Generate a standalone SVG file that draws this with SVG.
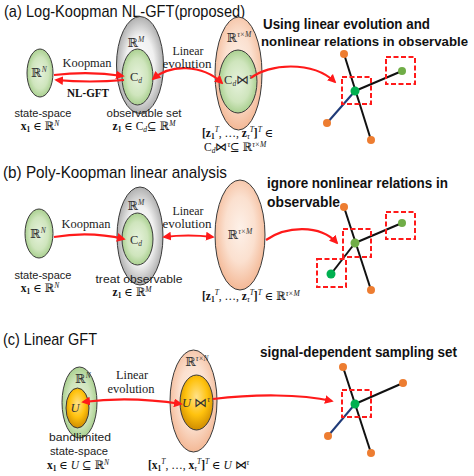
<svg xmlns="http://www.w3.org/2000/svg" width="474" height="476" viewBox="0 0 474 476">
<defs>
<radialGradient id="gGreen" cx="50%" cy="50%" r="55%"><stop offset="0" stop-color="#e6f2dc"/><stop offset="0.6" stop-color="#cfe5bd"/><stop offset="1" stop-color="#9fca83"/></radialGradient>
<radialGradient id="gGray" cx="50%" cy="50%" r="55%"><stop offset="0" stop-color="#ffffff"/><stop offset="0.55" stop-color="#f0f0f0"/><stop offset="1" stop-color="#a0a0a0"/></radialGradient>
<radialGradient id="gOrange" cx="50%" cy="45%" r="60%"><stop offset="0" stop-color="#fdf1e9"/><stop offset="0.5" stop-color="#fbe0cf"/><stop offset="1" stop-color="#f2b08a"/></radialGradient>
<radialGradient id="gGold" cx="50%" cy="40%" r="60%"><stop offset="0" stop-color="#ffe28a"/><stop offset="0.55" stop-color="#ffc20e"/><stop offset="1" stop-color="#cf8c00"/></radialGradient>
<marker id="ah" viewBox="0 0 10 10" refX="8" refY="5" markerWidth="4" markerHeight="4" orient="auto-start-reverse"><path d="M0,0 L10,5 L0,10 z" fill="#ff1a1a"/></marker>
<style>
.el{stroke:#3a3a3a;stroke-width:1}
.grn{fill:url(#gGreen)}
.gry{fill:url(#gGray)}
.org{fill:url(#gOrange)}
.gld{fill:url(#gGold)}
.arr{fill:none;stroke:#ff1a1a;stroke-width:2.2}
.ttl{font-family:"Liberation Sans","Open Sans",sans-serif;font-size:17px;fill:#111}
.bt{font-family:"Liberation Sans","Open Sans",sans-serif;font-size:14.5px;font-weight:bold;fill:#111}
.bt2{font-family:"Liberation Sans","Open Sans",sans-serif;font-size:12.8px;font-weight:bold;fill:#111}
.lab{font-family:"Liberation Sans","Open Sans",sans-serif;font-size:11px;fill:#222}
.m{font-family:"Liberation Serif","DejaVu Serif",serif;font-size:12.5px;fill:#333}
.mb{font-family:"Liberation Serif","DejaVu Serif",serif;font-size:11.5px;fill:#111}
.ser{font-family:"Liberation Serif","DejaVu Serif",serif;font-size:12.5px;fill:#222}
.sb{font-family:"Liberation Serif","DejaVu Serif",serif;font-size:12.5px;font-weight:bold;fill:#111}
.it{font-style:italic}
.sm{font-size:7.5px}
.edge{stroke:#111;stroke-width:2}
.blue{stroke:#1f3a78;stroke-width:2}
.no{fill:#ed7d31}
.ng{fill:#00b050}
.nl{fill:#70ad47}
.box{fill:none;stroke:#ff1a1a;stroke-width:2;stroke-dasharray:5,2.5}
</style>
</defs>
<rect width="474" height="476" fill="#ffffff"/>

<!-- Titles -->
<text class="ttl" x="4" y="17" textLength="241" lengthAdjust="spacingAndGlyphs">(a) Log-Koopman NL-GFT(proposed)</text>
<text class="ttl" x="3" y="178" textLength="224" lengthAdjust="spacingAndGlyphs">(b) Poly-Koopman linear analysis</text>
<text class="ttl" x="3" y="345" textLength="94" lengthAdjust="spacingAndGlyphs">(c) Linear GFT</text>
<text class="bt" x="263" y="29" textLength="167" lengthAdjust="spacingAndGlyphs">Using linear evolution and</text>
<text class="bt2" x="261" y="46" textLength="207" lengthAdjust="spacingAndGlyphs">nonlinear relations in observable</text>
<text class="bt" x="267" y="188" textLength="181" lengthAdjust="spacingAndGlyphs">ignore nonlinear relations in</text>
<text class="bt" x="267" y="207" textLength="73" lengthAdjust="spacingAndGlyphs">observable</text>
<text class="bt" x="260" y="357" textLength="197" lengthAdjust="spacingAndGlyphs">signal-dependent sampling set</text>

<!-- Panel (a) nodes -->
<g id="a-state">
<ellipse class="el grn" cx="40" cy="73" rx="13" ry="24"/>
<text class="m" x="39" y="77" text-anchor="middle">ℝ<tspan class="sm it" dy="-5">N</tspan></text>
<text class="lab" x="43" y="117" text-anchor="middle" textLength="57" lengthAdjust="spacingAndGlyphs">state-space</text>
<text class="mb" x="40" y="130" text-anchor="middle"><tspan font-weight="bold">x</tspan><tspan class="sm" font-weight="bold" dy="2">1</tspan><tspan dy="-2"> ∈ ℝ</tspan><tspan class="sm it" dy="-4">N</tspan></text>
</g>
<g id="a-observable">
<ellipse class="el gry" cx="140" cy="65" rx="23.5" ry="48.5"/>
<ellipse class="el grn" cx="137.5" cy="77" rx="15.5" ry="28"/>
<text class="m" x="136" y="47" text-anchor="middle">ℝ<tspan class="sm it" dy="-5">M</tspan></text>
<text class="m" x="136" y="81" text-anchor="middle">C<tspan class="sm it" dy="2">d</tspan></text>
<text class="lab" x="144" y="117" text-anchor="middle" textLength="75" lengthAdjust="spacingAndGlyphs">observable set</text>
<text class="mb" x="144" y="130" text-anchor="middle"><tspan font-weight="bold">z</tspan><tspan class="sm" font-weight="bold" dy="2">1</tspan><tspan dy="-2"> ∈ C</tspan><tspan class="sm it" dy="2">d</tspan><tspan dy="-2">⊆ ℝ</tspan><tspan class="sm it" dy="-4">M</tspan></text>
</g>
<g id="a-evolved">
<ellipse class="el org" cx="238.5" cy="73.5" rx="23.5" ry="56.5"/>
<ellipse class="el grn" cx="238" cy="81.5" rx="19" ry="31.5"/>
<text class="m" x="239" y="42" text-anchor="middle">ℝ<tspan class="sm it" dy="-5">τ×M</tspan></text>
<text class="m" x="238" y="84" text-anchor="middle">C<tspan class="sm it" dy="2">d</tspan><tspan dy="-2">⋈</tspan><tspan class="sm it" dy="-5">τ</tspan></text>
<text class="mb" x="202" y="137"><tspan font-weight="bold">[z</tspan><tspan class="sm" font-weight="bold" dy="2">1</tspan><tspan class="sm it" dy="-7">T</tspan><tspan dy="5">, …, </tspan><tspan font-weight="bold">z</tspan><tspan class="sm it" dy="2">τ</tspan><tspan class="sm it" dy="-7">T</tspan><tspan dy="5" font-weight="bold">]</tspan><tspan class="sm it" dy="-5">T</tspan><tspan dy="5"> ∈</tspan></text>
<text class="mb" x="204" y="151">C<tspan class="sm it" dy="2">d</tspan><tspan dy="-2">⋈</tspan><tspan class="sm it" dy="-4">τ</tspan><tspan dy="4">⊆ ℝ</tspan><tspan class="sm it" dy="-4">τ×M</tspan></text>
</g>
<g id="a-graph">
<line class="edge" x1="344" y1="54" x2="371" y2="140"/>
<line class="edge" x1="355" y1="91" x2="402" y2="71"/>
<line class="blue" x1="355" y1="91" x2="327" y2="123"/>
<circle class="no" cx="344" cy="54" r="4"/>
<circle class="no" cx="327" cy="123" r="4"/>
<circle class="no" cx="371" cy="140" r="4"/>
<circle class="ng" cx="355" cy="91" r="4.5"/>
<circle class="nl" cx="402" cy="71" r="4"/>
<rect class="box" x="342" y="77" width="29" height="27"/>
<rect class="box" x="386" y="57" width="29" height="27"/>
</g>

<!-- Panel (b) nodes -->
<g id="b-state">
<ellipse class="el grn" cx="39" cy="233.5" rx="14" ry="24.5"/>
<text class="m" x="38" y="238" text-anchor="middle">ℝ<tspan class="sm it" dy="-5">N</tspan></text>
<text class="lab" x="43" y="279" text-anchor="middle" textLength="57" lengthAdjust="spacingAndGlyphs">state-space</text>
<text class="mb" x="40" y="292" text-anchor="middle"><tspan font-weight="bold">x</tspan><tspan class="sm" font-weight="bold" dy="2">1</tspan><tspan dy="-2"> ∈ ℝ</tspan><tspan class="sm it" dy="-4">N</tspan></text>
</g>
<g id="b-observable">
<ellipse class="el gry" cx="140" cy="236" rx="23" ry="49"/>
<ellipse class="el grn" cx="137.5" cy="239" rx="15.5" ry="26"/>
<text class="m" x="136" y="210" text-anchor="middle">ℝ<tspan class="sm it" dy="-5">M</tspan></text>
<text class="m" x="136" y="244" text-anchor="middle">C<tspan class="sm it" dy="2">d</tspan></text>
<text class="lab" x="139" y="283" text-anchor="middle" textLength="87" lengthAdjust="spacingAndGlyphs">treat observable</text>
<text class="mb" x="132" y="296" text-anchor="middle"><tspan font-weight="bold">z</tspan><tspan class="sm" font-weight="bold" dy="2">1</tspan><tspan dy="-2"> ∈ ℝ</tspan><tspan class="sm it" dy="-4">M</tspan></text>
</g>
<g id="b-evolved">
<ellipse class="el org" cx="240" cy="235" rx="25" ry="55"/>
<text class="m" x="240" y="239" text-anchor="middle">ℝ<tspan class="sm it" dy="-5">τ×M</tspan></text>
<text class="mb" x="202" y="300"><tspan font-weight="bold">[z</tspan><tspan class="sm" font-weight="bold" dy="2">1</tspan><tspan class="sm it" dy="-7">T</tspan><tspan dy="5">, …, </tspan><tspan font-weight="bold">z</tspan><tspan class="sm it" dy="2">τ</tspan><tspan class="sm it" dy="-7">T</tspan><tspan dy="5" font-weight="bold">]</tspan><tspan class="sm it" dy="-5">T</tspan><tspan dy="5"> ∈ ℝ</tspan><tspan class="sm it" dy="-4">τ×M</tspan></text>
</g>
<g id="b-graph">
<line class="edge" x1="344" y1="207" x2="371" y2="290"/>
<line class="edge" x1="355" y1="243" x2="402" y2="223"/>
<line class="edge" x1="355" y1="243" x2="331" y2="274"/>
<circle class="no" cx="344" cy="207" r="4"/>
<circle class="no" cx="371" cy="290" r="4"/>
<circle class="nl" cx="355" cy="243" r="4.5"/>
<circle class="nl" cx="402" cy="223" r="4"/>
<circle class="ng" cx="331" cy="274" r="4.5"/>
<rect class="box" x="343" y="229" width="28" height="28"/>
<rect class="box" x="386" y="212" width="29" height="27"/>
<rect class="box" x="317" y="259" width="29" height="28"/>
</g>

<!-- Panel (c) nodes -->
<g id="c-state">
<ellipse class="el grn" cx="79.5" cy="402.5" rx="17.5" ry="35.5"/>
<ellipse class="el gld" cx="77.5" cy="408" rx="11.5" ry="20"/>
<text class="m" x="83" y="383" text-anchor="middle">ℝ<tspan class="sm it" dy="-5">N</tspan></text>
<text class="m it" x="75" y="412" text-anchor="middle">U</text>
<text class="lab" x="80" y="441" text-anchor="middle" textLength="62" lengthAdjust="spacingAndGlyphs">bandlimited</text>
<text class="lab" x="79" y="455" text-anchor="middle" textLength="58" lengthAdjust="spacingAndGlyphs">state-space</text>
<text class="mb" x="78" y="469" text-anchor="middle"><tspan font-weight="bold">x</tspan><tspan class="sm" font-weight="bold" dy="2">1</tspan><tspan dy="-2"> ∈ </tspan><tspan class="it">U</tspan><tspan> ⊆ ℝ</tspan><tspan class="sm it" dy="-4">N</tspan></text>
</g>
<g id="c-evolved">
<ellipse class="el org" cx="193.5" cy="401" rx="23.5" ry="51"/>
<ellipse class="el gld" cx="196.5" cy="402.5" rx="16.5" ry="27.5"/>
<text class="m" x="197" y="366" text-anchor="middle">ℝ<tspan class="sm it" dy="-5">τ×N</tspan></text>
<text class="m" x="196" y="407" text-anchor="middle"><tspan class="it">U</tspan> ⋈<tspan class="sm it" dy="-5">τ</tspan></text>
<text class="mb" x="148" y="469"><tspan font-weight="bold">[x</tspan><tspan class="sm" font-weight="bold" dy="2">1</tspan><tspan class="sm it" dy="-7">T</tspan><tspan dy="5">, …, </tspan><tspan font-weight="bold">x</tspan><tspan class="sm it" dy="2">τ</tspan><tspan class="sm it" dy="-7">T</tspan><tspan dy="5" font-weight="bold">]</tspan><tspan class="sm it" dy="-5">T</tspan><tspan dy="5"> ∈ </tspan><tspan class="it">U</tspan><tspan> ⋈</tspan><tspan class="sm it" dy="-4">τ</tspan></text>
</g>
<g id="c-graph">
<line class="edge" x1="343" y1="367" x2="371" y2="453"/>
<line class="edge" x1="355" y1="404" x2="403" y2="383"/>
<line class="blue" x1="355" y1="404" x2="328" y2="436"/>
<circle class="no" cx="343" cy="367" r="4"/>
<circle class="no" cx="371" cy="453" r="4"/>
<circle class="no" cx="403" cy="383" r="4"/>
<circle class="no" cx="328" cy="436" r="4"/>
<circle class="ng" cx="355" cy="404" r="4.5"/>
<rect class="box" x="342" y="390" width="29" height="27"/>
</g>

<!-- Connectors -->
<g id="connectors">
<path class="arr" d="M54,75 Q90,71 123,76" marker-end="url(#ah)"/>
<path class="arr" d="M124,80 Q90,83 56,80" marker-end="url(#ah)"/>
<path class="arr" d="M153,79 C170,64 202,64 222,83" marker-start="url(#ah)" marker-end="url(#ah)"/>
<path class="arr" d="M251,78 C268,64 312,60 335,82" marker-end="url(#ah)"/>
<path class="arr" d="M54,237 Q90,231 124,239" marker-end="url(#ah)"/>
<path class="arr" d="M164,237 Q188,234 213,237" marker-start="url(#ah)" marker-end="url(#ah)"/>
<path class="arr" d="M266,240 C286,226 320,224 337,243" marker-end="url(#ah)"/>
<path class="arr" d="M83,402 Q130,396 181,404" marker-start="url(#ah)" marker-end="url(#ah)"/>
<path class="arr" d="M213,399 C255,394 300,394 332,401" marker-end="url(#ah)"/>
</g>
<g id="connector-labels">
<text class="ser" x="87" y="67" text-anchor="middle" textLength="49" lengthAdjust="spacingAndGlyphs">Koopman</text>
<text class="sb" x="88" y="97" text-anchor="middle" textLength="42" lengthAdjust="spacingAndGlyphs">NL-GFT</text>
<text class="ser" x="188" y="55" text-anchor="middle" textLength="31" lengthAdjust="spacingAndGlyphs">Linear</text>
<text class="ser" x="187" y="68" text-anchor="middle" textLength="49" lengthAdjust="spacingAndGlyphs">evolution</text>
<text class="ser" x="86" y="228" text-anchor="middle" textLength="49" lengthAdjust="spacingAndGlyphs">Koopman</text>
<text class="ser" x="188" y="215" text-anchor="middle" textLength="31" lengthAdjust="spacingAndGlyphs">Linear</text>
<text class="ser" x="187" y="228" text-anchor="middle" textLength="49" lengthAdjust="spacingAndGlyphs">evolution</text>
<text class="ser" x="132" y="379" text-anchor="middle" textLength="32" lengthAdjust="spacingAndGlyphs">Linear</text>
<text class="ser" x="131" y="393" text-anchor="middle" textLength="47" lengthAdjust="spacingAndGlyphs">evolution</text>
</g>
</svg>
